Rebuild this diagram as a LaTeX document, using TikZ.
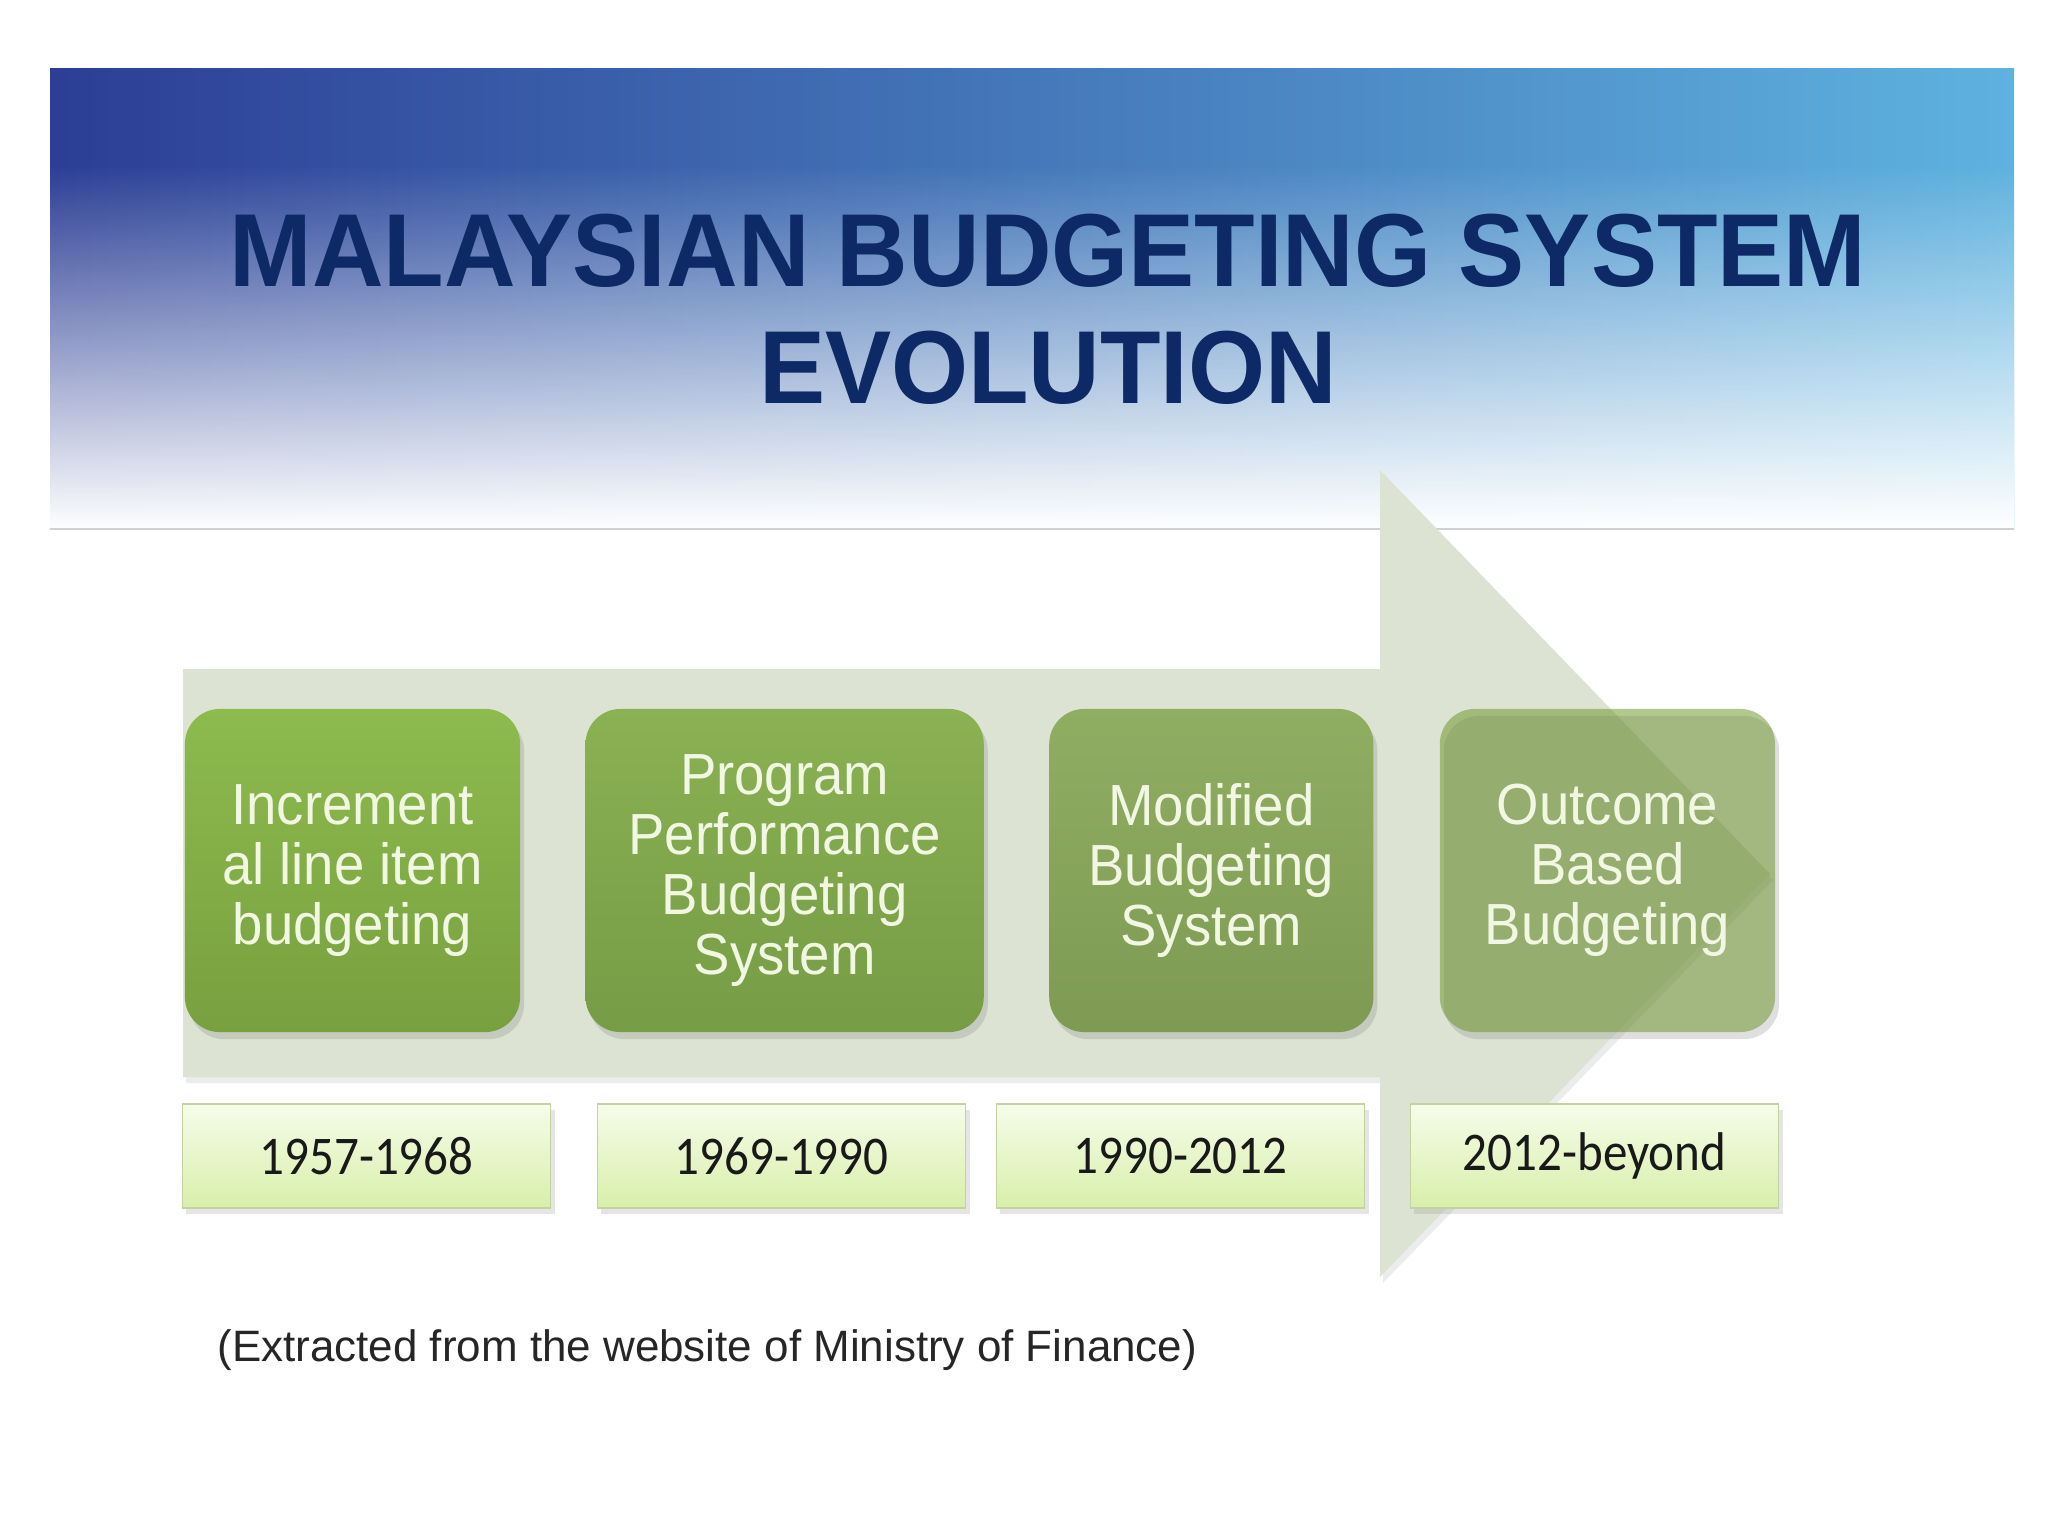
\documentclass[tikz,border=0pt]{standalone}
\usepackage{fontspec}
\setmainfont{Liberation Sans}
\newfontfamily\fuentetitulo[FakeStretch=0.955]{Liberation Sans}
\newfontfamily\fuenteetapa[FakeStretch=0.94]{Liberation Sans}
\newfontfamily\fuenteanio[FakeStretch=0.9]{Carlito}
\usetikzlibrary{positioning,shadows,fadings}

\definecolor{azulosc}{HTML}{2C3E95}
\definecolor{azulmed}{HTML}{3F7AC0}
\definecolor{azulcla}{HTML}{5EB2DF}
\definecolor{azultit}{HTML}{0D2966}
\definecolor{grisflecha}{HTML}{DCE3D2}
\definecolor{verdeA}{HTML}{8DBB4E}
\definecolor{verdeB}{HTML}{78A03F}
\definecolor{verdeC}{HTML}{8AB152}
\definecolor{verdeD}{HTML}{769C46}
\definecolor{verdeE}{HTML}{90AE62}
\definecolor{verdeF}{HTML}{7E9A53}
\definecolor{verdeG}{HTML}{689222}
\definecolor{textoetapa}{HTML}{F1F7E2}
\definecolor{anioarriba}{HTML}{F6FCEA}
\definecolor{anioabajo}{HTML}{D8EFAA}
\definecolor{bordeanio}{HTML}{C3D1A3}

\tikzfading[name=fade cabecera, top color=transparent!100,
  middle color=transparent!28, bottom color=transparent!0]

\tikzset{
  estilo diapo/.style={
      x=0.01cm, y=-0.01cm,
      etapa/.style={rounded corners=0.35cm, minimum height=3.23cm, inner sep=0pt,
          align=center, text=textoetapa,
          font={\fuenteetapa\fontsize{16.5}{17}\selectfont},
          drop shadow={opacity=0.25, shadow xshift=0.4mm, shadow yshift=-0.7mm}},
      periodo/.style={draw=bordeanio, minimum width=3.68cm, minimum height=1.04cm,
          top color=anioarriba, bottom color=anioabajo, text=black!90,
          font={\fuenteanio\fontsize{15.5}{17}\selectfont},
          drop shadow={opacity=0.2, shadow xshift=0.4mm, shadow yshift=-0.6mm}},
      titulo/.style={anchor=base, text=azultit,
          font={\fuentetitulo\bfseries\fontsize{29.5}{34}\selectfont}},
    },
}

\begin{document}
\begin{tikzpicture}[estilo diapo]
            \useasboundingbox[fill=white] (0,0) rectangle (2048,1536);

            % cabecera
            \shade[left color=azulosc, middle color=azulmed, right color=azulcla]
              (50,68) rectangle (2014,529);
            \fill[white, path fading=fade cabecera] (50,165) rectangle (2014,529);
            \draw[black!18, line width=0.6pt] (50,529) -- (2014,529);

            \node[titulo] (tit1) at (1048,286) {MALAYSIAN BUDGETING SYSTEM};
            \node[titulo] (tit2) at (1048,403) {EVOLUTION};

            % flecha
            \fill[grisflecha, drop shadow={opacity=0.15, shadow xshift=0.3mm, shadow yshift=-0.6mm}]
              (183,669) -- (1380,669) -- (1380,470) -- (1770,874)
              -- (1380,1277) -- (1380,1077) -- (183,1077) -- cycle;

            \node[etapa, minimum width=3.35cm, top color=verdeA, bottom color=verdeB]
              (e1) at (352.5,870.5) {Increment\\al line item\\budgeting};
            \node[etapa, minimum width=3.98cm, top color=verdeC, bottom color=verdeD,
              right=0.64cm of e1] (e2) {Program\\Performance\\Budgeting\\System};
            \node[etapa, minimum width=3.24cm, top color=verdeE, bottom color=verdeF,
              right=0.64cm of e2] (e3) {Modified\\Budgeting\\System};
            \node[etapa, minimum width=3.35cm, fill=verdeG, fill opacity=0.5, text opacity=1,
              right=0.65cm of e3] (e4) {Outcome\\Based\\Budgeting};

            \node[periodo] (p1) at (366.5,1156) {1957-1968};
            \node[periodo] (p2) at (781.5,1156) {1969-1990};
            \node[periodo] (p3) at (1180.5,1156) {1990-2012};
            \node[periodo] (p4) at (1594.5,1156) {2012-beyond};

            \node[anchor=base west, text=black!85, font={\fontsize{12.5}{15}\selectfont}]
              (fuente) at (205,1361) {(Extracted from the website of Ministry of Finance)};
          \end{tikzpicture}
\end{document}
